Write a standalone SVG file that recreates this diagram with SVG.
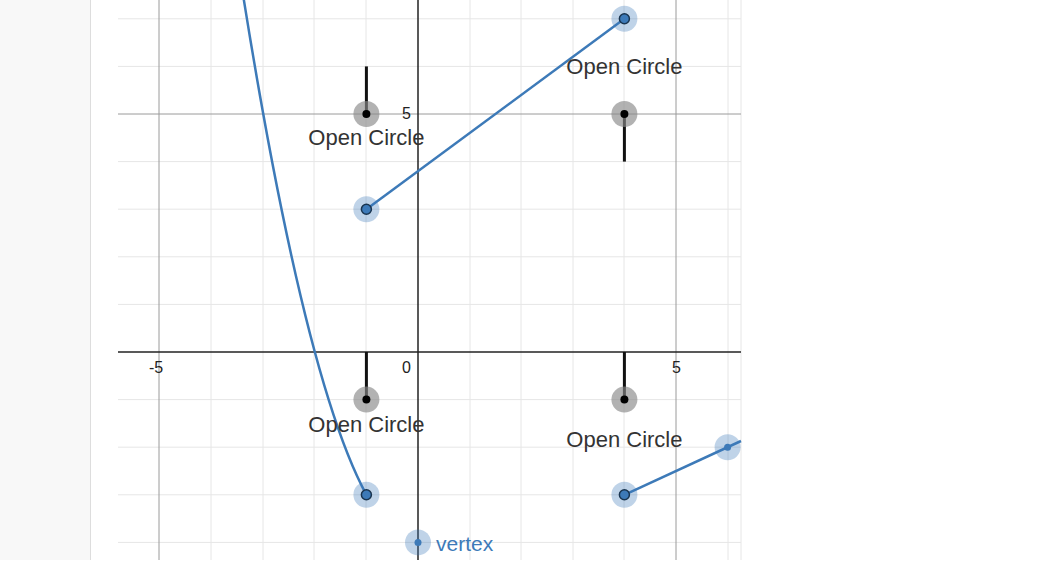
<svg xmlns="http://www.w3.org/2000/svg" width="1052" height="572" viewBox="0 0 1052 572">
<style>
.minor{stroke:#e6e6e6;stroke-width:1}
.major{stroke:#9a9a9a;stroke-width:1}
.axis{stroke:#222;stroke-width:1.5}
.tick{font-family:"Liberation Sans",Arial,sans-serif;font-size:16px;fill:#222}
.lbl{font-family:"Liberation Sans",Arial,sans-serif;font-size:22px;fill:#333;text-anchor:middle}
.blue{stroke:#3d7ab8;stroke-width:2.5;fill:none}
.stick{stroke:#111;stroke-width:3}
.halo{fill:#3d7ab8;fill-opacity:0.33}
.bdot{fill:#3d7ab8;stroke:#1a3550;stroke-width:1.5}
.ghalo{fill:#888;fill-opacity:0.65}
</style>
<rect width="1052" height="572" fill="#fff"/>
<rect width="90" height="560" fill="#f8f8f8"/>
<line x1="90.5" y1="0" x2="90.5" y2="560" stroke="#ddd"/>
<g id="grid">
<g class="minor">
<line x1="211" y1="0" x2="211" y2="560"/><line x1="263" y1="0" x2="263" y2="560"/><line x1="314" y1="0" x2="314" y2="560"/><line x1="366" y1="0" x2="366" y2="560"/><line x1="470" y1="0" x2="470" y2="560"/><line x1="521" y1="0" x2="521" y2="560"/><line x1="573" y1="0" x2="573" y2="560"/><line x1="624" y1="0" x2="624" y2="560"/><line x1="728" y1="0" x2="728" y2="560"/><line x1="741" y1="0" x2="741" y2="560"/>
<line x1="118" y1="18.8" x2="741" y2="18.8"/><line x1="118" y1="66.4" x2="741" y2="66.4"/><line x1="118" y1="161.6" x2="741" y2="161.6"/><line x1="118" y1="209.2" x2="741" y2="209.2"/><line x1="118" y1="256.8" x2="741" y2="256.8"/><line x1="118" y1="304.4" x2="741" y2="304.4"/><line x1="118" y1="399.6" x2="741" y2="399.6"/><line x1="118" y1="447.2" x2="741" y2="447.2"/><line x1="118" y1="494.8" x2="741" y2="494.8"/><line x1="118" y1="542.4" x2="741" y2="542.4"/>
</g>
<g class="major">
<line x1="159" y1="0" x2="159" y2="560"/><line x1="676" y1="0" x2="676" y2="560"/><line x1="118" y1="114" x2="741" y2="114"/>
</g>
<g class="axis">
<line x1="418" y1="0" x2="418" y2="560"/><line x1="118" y1="352" x2="741" y2="352"/>
</g>
<text class="tick" x="149" y="373">-5</text>
<text class="tick" x="402" y="373">0</text>
<text class="tick" x="672" y="373">5</text>
<text class="tick" x="402" y="119">5</text>
</g>
<g id="connectors">
<path class="blue" d="M242.6,-7.9 Q304.5,380.6 366.4,494.8"/>
<line class="blue" x1="366.4" y1="209.2" x2="624.4" y2="18.8"/>
<line class="blue" x1="624.4" y1="494.8" x2="741" y2="441"/>
<line class="stick" x1="366.4" y1="66.4" x2="366.4" y2="114"/>
<line class="stick" x1="624.4" y1="114" x2="624.4" y2="161.6"/>
<line class="stick" x1="366.4" y1="352" x2="366.4" y2="399.6"/>
<line class="stick" x1="624.4" y1="352" x2="624.4" y2="399.6"/>
</g>
<g id="p1"><circle class="ghalo" cx="366.4" cy="114" r="13"/><circle cx="366.4" cy="114" r="4" fill="#000"/><text class="lbl" x="366.4" y="145">Open Circle</text></g>
<g id="p2"><circle class="ghalo" cx="624.4" cy="114" r="13"/><circle cx="624.4" cy="114" r="4" fill="#000"/></g>
<g id="p3"><circle class="ghalo" cx="366.4" cy="399.6" r="13"/><circle cx="366.4" cy="399.6" r="4" fill="#000"/><text class="lbl" x="366.4" y="432">Open Circle</text></g>
<g id="p4"><circle class="ghalo" cx="624.4" cy="399.6" r="13"/><circle cx="624.4" cy="399.6" r="4" fill="#000"/><text class="lbl" x="624.4" y="447">Open Circle</text></g>
<g id="b1"><circle class="halo" cx="624.4" cy="18.8" r="13"/><circle class="bdot" cx="624.4" cy="18.8" r="5"/><text class="lbl" x="624.4" y="74">Open Circle</text></g>
<g id="b2"><circle class="halo" cx="366.4" cy="209.2" r="13"/><circle class="bdot" cx="366.4" cy="209.2" r="5"/></g>
<g id="b3"><circle class="halo" cx="366.4" cy="494.8" r="13"/><circle class="bdot" cx="366.4" cy="494.8" r="5"/></g>
<g id="b4"><circle class="halo" cx="624.4" cy="494.8" r="13"/><circle class="bdot" cx="624.4" cy="494.8" r="5"/></g>
<g id="b5"><circle class="halo" cx="727.6" cy="447.2" r="13"/><circle cx="727.6" cy="447.2" r="3.5" fill="#3d7ab8"/></g>
<g id="vertex"><circle class="halo" cx="418" cy="542.4" r="13"/><circle cx="418" cy="542.4" r="3.5" fill="#3d7ab8"/><text x="436" y="551" font-family="Liberation Sans,Arial,sans-serif" font-size="21" fill="#3d7ab8">vertex</text></g>
<rect x="0" y="560" width="1052" height="12" fill="#fff"/>
</svg>
